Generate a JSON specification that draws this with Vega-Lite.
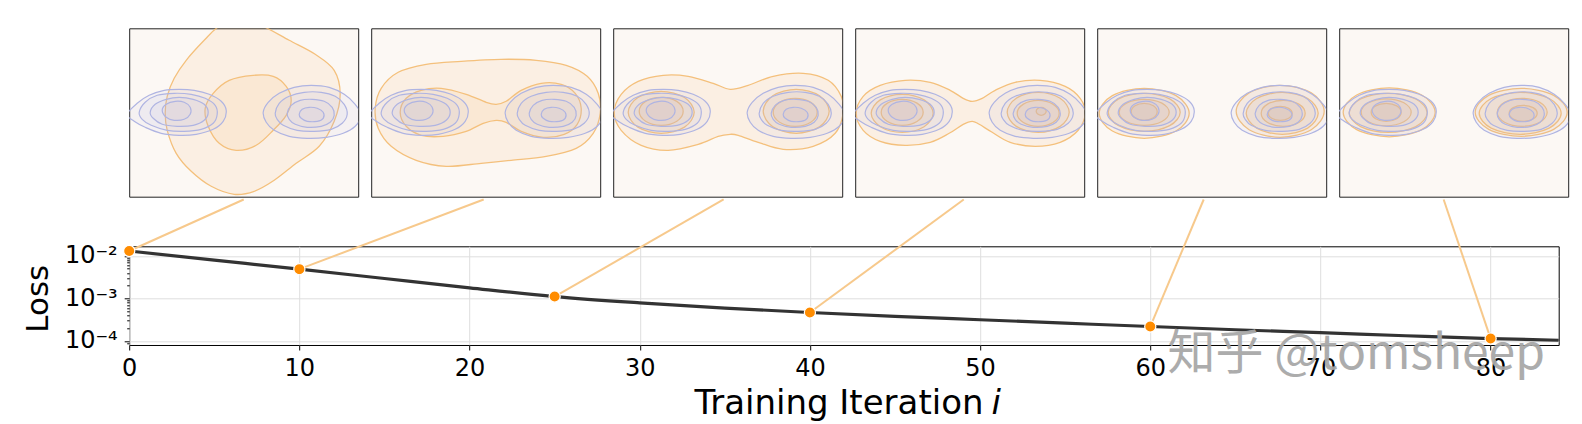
{
"$schema": "https://vega.github.io/schema/vega-lite/v6.json",
"autosize": {"type": "pad"},
"padding": {"left": 21.2, "top": 27.3, "right": 23, "bottom": 4},
"background": "white",
"config": {"font": "DejaVu Sans", "axis": {"labelFont": "DejaVu Sans", "titleFont": "DejaVu Sans"}},
"datasets": {
"blue": [
{"c":"L1","x":[-2,8,20,35,50,65,80,92,97,94,84,67,50,32,16,5],"y":[86,75,67,62,61,62,66,73,82,93,101,106,107,105,99,93]},
{"c":"L2","x":[10,16,28,45,62,76,86,88,84,72,55,38,22,13],"y":[84,74,67,65,66,70,77,86,95,101,103,102,97,91]},
{"c":"L3","x":[21,26,37,50,64,75,79,75,64,48,33,24],"y":[84,76,71,69,71,76,84,92,97,98,96,90]},
{"c":"L4","x":[33,37,46,55,61,61,55,45,37],"y":[82,76,73,74,79,86,91,92,89]},
{"c":"R1","x":[134,139,150,165,182,200,215,226,232,226,214,197,178,160,145,137],"y":[84,74,65,59,57,59,66,76,87,98,105,109,110,108,102,94]},
{"c":"R2","x":[146,150,160,175,192,206,215,218,213,202,185,168,154,148],"y":[85,75,68,64,64,68,76,86,95,101,103,102,97,91]},
{"c":"R3","x":[158,162,171,183,195,203,205,201,192,178,166,160],"y":[85,77,72,71,73,79,87,94,98,99,96,91]},
{"c":"R4","x":[170,173,180,188,194,194,188,178,172],"y":[86,81,79,80,84,90,93,93,90]}
],
"orange": [
{"p":1,"c":"a","x":[90,75,57,45,38,36,38,47,62,82,105,125,145,167,190,205,211,205,186,160,134,112],"y":[-2,12,32,50,68,85,102,125,143,158,166,163,152,135,118,93,66,42,26,12,-2,-10]},
{"p":1,"c":"b","x":[124,100,84,76,79,90,107,127,144,157,162,157,144],"y":[47,52,65,80,98,115,122,117,102,87,72,58,48]},
{"p":2,"c":"a","x":[4,10,27,55,90,130,165,195,216,227,229,222,205,175,140,110,75,45,20,7],"y":[80,60,44,36,33,31,32,37,48,65,85,105,120,128,132,135,138,132,118,100]},
{"p":2,"c":"b","x":[29,35,50,70,95,115,125,135,150,170,190,204,210,206,193,172,150,135,125,112,95,72,50,35],"y":[84,70,62,60,66,74,76,73,62,55,56,65,80,96,106,109,103,94,92,95,103,108,107,98]},
{"p":3,"c":"a","x":[1,8,25,50,75,100,117,135,160,190,215,228,230,222,200,170,145,125,117,105,85,55,28,8],"y":[84,66,53,47,48,55,61,57,48,45,52,68,85,105,118,121,114,107,106,108,116,122,117,102]},
{"p":3,"c":"b","x":[81,71.3,48,24.7,15,24.7,48,71.3],"y":[84,98.8,105,98.8,84,69.2,63,69.2]},
{"p":3,"c":"c","x":[216,206.3,183,159.7,150,159.7,183,206.3],"y":[83,98.6,105,98.6,83,67.4,61,67.4]},
{"p":3,"c":"d","x":[70,63.6,48,32.4,26,32.4,48,63.6],"y":[83,92.9,97,92.9,83,73.1,69,73.1]},
{"p":3,"c":"e","x":[204,197.6,182,166.4,160,166.4,182,197.6],"y":[84,93.9,98,93.9,84,74.1,70,74.1]},
{"p":4,"c":"a","x":[1,8,25,50,75,95,108,117,127,140,160,185,210,225,230,223,205,180,155,137,124,117,108,94,75,50,25,8],"y":[85,68,57,52,54,62,70,73,70,62,54,52,58,70,85,102,114,118,114,104,96,93,96,105,114,117,113,102]},
{"p":4,"c":"b","x":[78,68.9,47,25.1,16,25.1,47,68.9],"y":[85,98.4,104,98.4,85,71.6,66,71.6]},
{"p":4,"c":"c","x":[214,204.9,183,161.1,152,161.1,183,204.9],"y":[84,98.1,104,98.1,84,69.9,64,69.9]},
{"p":4,"c":"d","x":[68,61.8,47,32.2,26,32.2,47,61.8],"y":[84,93.2,97,93.2,84,74.8,71,74.8]},
{"p":4,"c":"e","x":[204,197.8,183,168.2,162,168.2,183,197.8],"y":[85,94.2,98,94.2,85,75.8,72,75.8]},
{"p":4,"c":"f","x":[191,189.5,186,182.5,181,182.5,186,189.5],"y":[83,85.8,87,85.8,83,80.2,79,80.2]},
{"p":5,"c":"a","x":[92,78.8,47,15.2,2,15.2,47,78.8],"y":[85,102.7,110,102.7,85,67.3,60,67.3]},
{"p":5,"c":"b","x":[83,72.5,47,21.5,11,21.5,47,72.5],"y":[84,97.4,103,97.4,84,70.6,65,70.6]},
{"p":5,"c":"c","x":[72,64.7,47,29.3,22,29.3,47,64.7],"y":[84,93.2,97,93.2,84,74.8,71,74.8]},
{"p":5,"c":"d","x":[60,56.2,47,37.8,34,37.8,47,56.2],"y":[83.5,89.5,92,89.5,83.5,77.5,75,77.5]},
{"p":5,"c":"e","x":[227,214.1,183,151.9,139,151.9,183,214.1],"y":[83,101.4,109,101.4,83,64.6,57,64.6]},
{"p":5,"c":"f","x":[221,210.5,185,159.5,149,159.5,185,210.5],"y":[85,99.8,106,99.8,85,70.2,64,70.2]},
{"p":5,"c":"g","x":[208,201.6,186,170.4,164,170.4,186,201.6],"y":[85,94.2,98,94.2,85,75.8,72,75.8]},
{"p":5,"c":"h","x":[195,191.5,183,174.5,171,174.5,183,191.5],"y":[85,89.9,92,89.9,85,80.1,78,80.1]},
{"p":6,"c":"a","x":[96,82.5,50,17.5,4,17.5,50,82.5],"y":[84,101.3,108.5,101.3,84,66.7,59.5,66.7]},
{"p":6,"c":"b","x":[88,76.6,49,21.4,10,21.4,49,76.6],"y":[84.5,98.3,104,98.3,84.5,70.7,65,70.7]},
{"p":6,"c":"c","x":[72,64.7,47,29.3,22,29.3,47,64.7],"y":[84,93.5,97.5,93.5,84,74.5,70.5,74.5]},
{"p":6,"c":"d","x":[62,57.6,47,36.4,32,36.4,47,57.6],"y":[84,90.4,93,90.4,84,77.6,75,77.6]},
{"p":6,"c":"e","x":[228,214.5,182,149.5,136,149.5,182,214.5],"y":[84,101,108,101,84,67,60,67]},
{"p":6,"c":"f","x":[222,210,181,152,140,152,181,210],"y":[85,99.8,106,99.8,85,70.2,64,70.2]},
{"p":6,"c":"g","x":[208,200.7,183,165.3,158,165.3,183,200.7],"y":[84,93.9,98,93.9,84,74.1,70,74.1]},
{"p":6,"c":"h","x":[198,193.9,184,174.1,170,174.1,184,193.9],"y":[85,90.7,93,90.7,85,79.3,77,79.3]}
],
"loss": [
{"i":0,"loss":0.0131},{"i":5,"loss":0.0080},{"i":10,"loss":0.0049},{"i":15,"loss":0.00295},{"i":20,"loss":0.00178},{"i":25,"loss":0.00111},{"i":30,"loss":0.00079},{"i":35,"loss":0.000596},{"i":40,"loss":0.000468},{"i":45,"loss":0.00038},{"i":50,"loss":0.000316},{"i":55,"loss":0.000263},{"i":60,"loss":0.000219},{"i":65,"loss":0.000184},{"i":70,"loss":0.000157},{"i":75,"loss":0.000133},{"i":80,"loss":0.000114},{"i":84,"loss":0.000104}
],
"pts": [
{"i":0,"loss":0.0131,"px":6.73,"py":0.2134},
{"i":10,"loss":0.0049,"px":20.83,"py":0.2134},
{"i":25,"loss":0.00111,"px":34.93,"py":0.2134},
{"i":40,"loss":0.000468,"px":49.04,"py":0.2134},
{"i":60,"loss":0.000219,"px":63.14,"py":0.2134},
{"i":80,"loss":0.000114,"px":77.24,"py":0.2134}
],
"xt": [{"t":"Training Iteration","x":50.2,"y":0.000001915}],
"xi": [{"t":"i","x":50.2,"y":0.000001915}],
"wm": [{"t":"知乎 @tomsheep","x":72.1,"y":0.0000469}]
},
"spacing": 0,
"vconcat": [
{
"spacing": 11,
"hconcat": [
{"width":229,"height":168.4,"view":{"fill":"#fcf8f4","stroke":"#222222"},"layer":[
{"data":{"name":"orange"},"transform":[{"filter":"datum.p == 1"},{"flatten":["x","y"]}],"mark":{"type":"line","interpolate":"cardinal-closed","stroke":"#f4c07c","strokeWidth":1.3,"fill":"#f9b96b","fillOpacity":0.12,"clip":true},"encoding":{"x":{"field":"x","type":"quantitative","scale":{"domain":[0,229],"nice":false,"zero":false},"axis":null},"y":{"field":"y","type":"quantitative","scale":{"domain":[0,168.4],"nice":false,"zero":false,"reverse":true},"axis":null},"detail":{"field":"c"},"order":{"value":null}}},
{"data":{"name":"blue"},"transform":[{"flatten":["x","y"]}],"mark":{"type":"line","interpolate":"cardinal-closed","stroke":"#afb4e2","strokeWidth":1.2,"fill":"#aeb2dc","fillOpacity":0.09,"clip":true},"encoding":{"x":{"field":"x","type":"quantitative"},"y":{"field":"y","type":"quantitative"},"detail":{"field":"c"},"order":{"value":null}}}
]},
{"width":229,"height":168.4,"view":{"fill":"#fcf8f4","stroke":"#222222"},"layer":[
{"data":{"name":"orange"},"transform":[{"filter":"datum.p == 2"},{"flatten":["x","y"]}],"mark":{"type":"line","interpolate":"cardinal-closed","stroke":"#f4c07c","strokeWidth":1.3,"fill":"#f9b96b","fillOpacity":0.12,"clip":true},"encoding":{"x":{"field":"x","type":"quantitative","scale":{"domain":[0,229],"nice":false,"zero":false},"axis":null},"y":{"field":"y","type":"quantitative","scale":{"domain":[0,168.4],"nice":false,"zero":false,"reverse":true},"axis":null},"detail":{"field":"c"},"order":{"value":null}}},
{"data":{"name":"blue"},"transform":[{"flatten":["x","y"]}],"mark":{"type":"line","interpolate":"cardinal-closed","stroke":"#afb4e2","strokeWidth":1.2,"fill":"#aeb2dc","fillOpacity":0.09,"clip":true},"encoding":{"x":{"field":"x","type":"quantitative"},"y":{"field":"y","type":"quantitative"},"detail":{"field":"c"},"order":{"value":null}}}
]},
{"width":229,"height":168.4,"view":{"fill":"#fcf8f4","stroke":"#222222"},"layer":[
{"data":{"name":"orange"},"transform":[{"filter":"datum.p == 3"},{"flatten":["x","y"]}],"mark":{"type":"line","interpolate":"cardinal-closed","stroke":"#f4c07c","strokeWidth":1.3,"fill":"#f9b96b","fillOpacity":0.12,"clip":true},"encoding":{"x":{"field":"x","type":"quantitative","scale":{"domain":[0,229],"nice":false,"zero":false},"axis":null},"y":{"field":"y","type":"quantitative","scale":{"domain":[0,168.4],"nice":false,"zero":false,"reverse":true},"axis":null},"detail":{"field":"c"},"order":{"value":null}}},
{"data":{"name":"blue"},"transform":[{"flatten":["x","y"]}],"mark":{"type":"line","interpolate":"cardinal-closed","stroke":"#afb4e2","strokeWidth":1.2,"fill":"#aeb2dc","fillOpacity":0.09,"clip":true},"encoding":{"x":{"field":"x","type":"quantitative"},"y":{"field":"y","type":"quantitative"},"detail":{"field":"c"},"order":{"value":null}}}
]},
{"width":229,"height":168.4,"view":{"fill":"#fcf8f4","stroke":"#222222"},"layer":[
{"data":{"name":"orange"},"transform":[{"filter":"datum.p == 4"},{"flatten":["x","y"]}],"mark":{"type":"line","interpolate":"cardinal-closed","stroke":"#f4c07c","strokeWidth":1.3,"fill":"#f9b96b","fillOpacity":0.12,"clip":true},"encoding":{"x":{"field":"x","type":"quantitative","scale":{"domain":[0,229],"nice":false,"zero":false},"axis":null},"y":{"field":"y","type":"quantitative","scale":{"domain":[0,168.4],"nice":false,"zero":false,"reverse":true},"axis":null},"detail":{"field":"c"},"order":{"value":null}}},
{"data":{"name":"blue"},"transform":[{"flatten":["x","y"]}],"mark":{"type":"line","interpolate":"cardinal-closed","stroke":"#afb4e2","strokeWidth":1.2,"fill":"#aeb2dc","fillOpacity":0.09,"clip":true},"encoding":{"x":{"field":"x","type":"quantitative"},"y":{"field":"y","type":"quantitative"},"detail":{"field":"c"},"order":{"value":null}}}
]},
{"width":229,"height":168.4,"view":{"fill":"#fcf8f4","stroke":"#222222"},"layer":[
{"data":{"name":"orange"},"transform":[{"filter":"datum.p == 5"},{"flatten":["x","y"]}],"mark":{"type":"line","interpolate":"cardinal-closed","stroke":"#f4c07c","strokeWidth":1.3,"fill":"#f9b96b","fillOpacity":0.12,"clip":true},"encoding":{"x":{"field":"x","type":"quantitative","scale":{"domain":[0,229],"nice":false,"zero":false},"axis":null},"y":{"field":"y","type":"quantitative","scale":{"domain":[0,168.4],"nice":false,"zero":false,"reverse":true},"axis":null},"detail":{"field":"c"},"order":{"value":null}}},
{"data":{"name":"blue"},"transform":[{"flatten":["x","y"]}],"mark":{"type":"line","interpolate":"cardinal-closed","stroke":"#afb4e2","strokeWidth":1.2,"fill":"#aeb2dc","fillOpacity":0.09,"clip":true},"encoding":{"x":{"field":"x","type":"quantitative"},"y":{"field":"y","type":"quantitative"},"detail":{"field":"c"},"order":{"value":null}}}
]},
{"width":229,"height":168.4,"view":{"fill":"#fcf8f4","stroke":"#222222"},"layer":[
{"data":{"name":"orange"},"transform":[{"filter":"datum.p == 6"},{"flatten":["x","y"]}],"mark":{"type":"line","interpolate":"cardinal-closed","stroke":"#f4c07c","strokeWidth":1.3,"fill":"#f9b96b","fillOpacity":0.12,"clip":true},"encoding":{"x":{"field":"x","type":"quantitative","scale":{"domain":[0,229],"nice":false,"zero":false},"axis":null},"y":{"field":"y","type":"quantitative","scale":{"domain":[0,168.4],"nice":false,"zero":false,"reverse":true},"axis":null},"detail":{"field":"c"},"order":{"value":null}}},
{"data":{"name":"blue"},"transform":[{"flatten":["x","y"]}],"mark":{"type":"line","interpolate":"cardinal-closed","stroke":"#afb4e2","strokeWidth":1.2,"fill":"#aeb2dc","fillOpacity":0.09,"clip":true},"encoding":{"x":{"field":"x","type":"quantitative"},"y":{"field":"y","type":"quantitative"},"detail":{"field":"c"},"order":{"value":null}}}
]}
]
},
{
"width": 1429.5,
"height": 98.7,
"view": {"fill": "white", "stroke": "black", "strokeWidth": 1},
"layer": [
{"data":{"name":"loss"},"mark":{"type":"line","color":"#333333","strokeWidth":3.2,"interpolate":"monotone"},
"encoding":{
"x":{"field":"i","type":"quantitative","scale":{"domain":[0,84],"nice":false,"zero":false},
"axis":{"values":[0,10,20,30,40,50,60,70,80],"title":null,"grid":true,"gridColor":"#dedede","gridWidth":1,"domain":false,"tickColor":"black","tickSize":5,"labelFontSize":24,"labelColor":"black","labelPadding":7,"labelFlush":false,"labelOverlap":false}},
"y":{"field":"loss","type":"quantitative","scale":{"type":"log","domain":[0.0000805,0.0169],"nice":false},
"axis":{"values":[0.00009,0.0001,0.0002,0.0003,0.0004,0.0005,0.0006,0.0007,0.0008,0.0009,0.001,0.002,0.003,0.004,0.005,0.006,0.007,0.008,0.009,0.01],
"title":"Loss","titleFontSize":31,"titleFontWeight":"normal","titleColor":"black","titleX":-82,"titleY":52,"titleAngle":-90,"titleBaseline":"alphabetic","titleAlign":"center",
"labelFontSize":24,"labelColor":"black","labelPadding":7,"labelOverlap":false,"labelFlush":false,"domain":false,"tickColor":"black",
"labelExpr":"abs(log(datum.value)/LN10 - round(log(datum.value)/LN10)) < 0.001 ? '10⁻' + (round(-log(datum.value)/LN10) == 2 ? '²' : (round(-log(datum.value)/LN10) == 3 ? '³' : '⁴')) : ''",
"tickSize":{"condition":{"test":"abs(log(datum.value)/LN10 - round(log(datum.value)/LN10)) < 0.001","value":5},"value":2.5},
"grid":true,"gridColor":"#dedede",
"gridOpacity":{"condition":{"test":"abs(log(datum.value)/LN10 - round(log(datum.value)/LN10)) < 0.001","value":1},"value":0}}}}},
{"data":{"name":"pts"},"mark":{"type":"rule","color":"#f7c98c","strokeWidth":2},
"encoding":{"x":{"field":"i","type":"quantitative"},"y":{"field":"loss","type":"quantitative"},"x2":{"field":"px"},"y2":{"field":"py"}}},
{"data":{"name":"pts"},"mark":{"type":"point","filled":true,"fill":"#ff8c00","stroke":"white","strokeWidth":1.2,"size":125,"opacity":1},
"encoding":{"x":{"field":"i","type":"quantitative"},"y":{"field":"loss","type":"quantitative"}}},
{"data":{"name":"xt"},"mark":{"type":"text","align":"right","baseline":"alphabetic","fontSize":34,"color":"black","font":"DejaVu Sans"},
"encoding":{"x":{"field":"x","type":"quantitative"},"y":{"field":"y","type":"quantitative"},"text":{"field":"t"}}},
{"data":{"name":"xi"},"mark":{"type":"text","align":"left","baseline":"alphabetic","fontSize":34,"fontStyle":"italic","color":"black","font":"DejaVu Sans","dx":8},
"encoding":{"x":{"field":"x","type":"quantitative"},"y":{"field":"y","type":"quantitative"},"text":{"field":"t"}}},
{"data":{"name":"wm"},"mark":{"type":"text","align":"center","baseline":"middle","fontSize":48,"color":"#a8a8a8","font":"Noto Sans CJK SC","opacity":0.95},
"encoding":{"x":{"field":"x","type":"quantitative"},"y":{"field":"y","type":"quantitative"},"text":{"field":"t"}}}
]
}
]
}
